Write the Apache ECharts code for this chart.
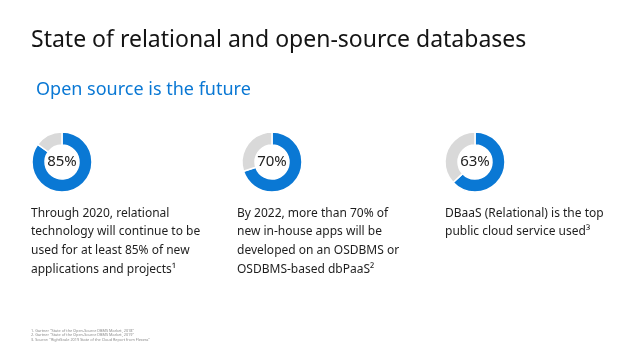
<!DOCTYPE html>
<html>
<head>
<meta charset="utf-8">
<script src="https://cdn.jsdelivr.net/npm/echarts@6/dist/echarts.min.js"></script>
<style>
html,body{margin:0;padding:0;background:#fff;}
#chart{width:638px;height:359px;}
</style>
</head>
<body>
<div id="chart"></div>
<script>
var titleText = 'State of relational and open-source databases';
var subtitleText = 'Open source is the future';
var percents = [85, 70, 63];
var percentLabels = ['85%', '70%', '63%'];
var descriptions = [
  'Through 2020, relational\ntechnology will continue to be\nused for at least 85% of new\napplications and projects\u00b9',
  'By 2022, more than 70% of\nnew in-house apps will be\ndeveloped on an OSDBMS or\nOSDBMS-based dbPaaS\u00b2',
  'DBaaS (Relational) is the top\npublic cloud service used\u00b3'
];
var footnotes = [
  '1. Gartner "State of the Open-Source DBMS Market, 2018"',
  '2. Gartner "State of the Open-Source DBMS Market, 2019"',
  '3. Source: "RightScale 2019 State of the Cloud Report from Flexera"'
];

var FONT = '"Noto Sans", "Open Sans", sans-serif';
var BLUE = '#0A78D4';
var GREY = '#D9D9D9';
var centersX = [62, 272, 475];
var textX = [31, 237, 445];

var series = percents.map(function (p, i) {
  return {
    type: 'pie',
    center: [centersX[i], 162],
    radius: [17, 30],
    startAngle: 90,
    clockwise: true,
    silent: true,
    animation: false,
    itemStyle: { borderColor: '#fff', borderWidth: 1.5 },
    labelLine: { show: false },
    data: [
      { value: p, name: 'yes', itemStyle: { color: BLUE },
        label: { show: true, position: 'center', formatter: percentLabels[i],
                 fontFamily: FONT, fontSize: 15, color: '#222' } },
      { value: 100 - p, name: 'no', itemStyle: { color: GREY }, label: { show: false } }
    ]
  };
});

var graphics = [
  { type: 'text', left: 31, top: 29, style: { text: titleText, font: '23px ' + FONT, fill: '#141414' } },
  { type: 'text', left: 36, top: 81, style: { text: subtitleText, font: '18px ' + FONT, fill: BLUE } }
];
descriptions.forEach(function (d, i) {
  graphics.push({ type: 'text', left: textX[i], top: 204,
    style: { text: d, font: '12px ' + FONT, fill: '#1e1e1e', lineHeight: 18.7 } });
});
footnotes.forEach(function (f, i) {
  graphics.push({ type: 'text', left: 31, top: 328.5 + i * 4.7,
    style: { text: f, font: '3.8px ' + FONT, fill: '#8a8a8a' } });
});

var chart = echarts.init(document.getElementById('chart'), null, { renderer: 'canvas' });
chart.setOption({
  backgroundColor: '#fff',
  animation: false,
  series: series,
  graphic: graphics
});
</script>
</body>
</html>
